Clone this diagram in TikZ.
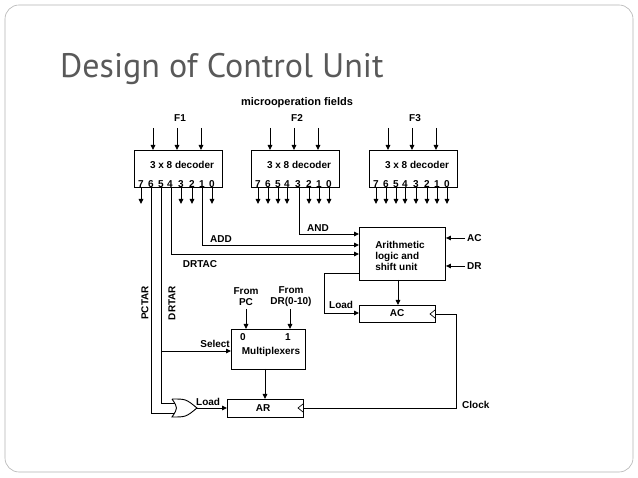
\documentclass[tikz,border=0pt]{standalone}
\usepackage{fontspec}
\setmainfont{Liberation Sans}
\newfontfamily\titlefont{PT Sans}
\usetikzlibrary{arrows.meta}
\begin{document}
\begin{tikzpicture}[x=1pt,y=-1pt,
  lbl/.style={font=\bfseries\fontsize{10}{11}\selectfont,inner sep=0pt,align=center},
  box/.style={draw,line width=0.9pt,minimum width=#1,inner sep=0pt},
  w/.style={line width=0.9pt},
  arr/.style={w,-{Triangle[length=5pt,width=4.5pt]}},
  clk/.style={line width=0.7pt}]
\useasboundingbox (0,0) rectangle (638,478);
\draw[gray!60,line width=0.6pt,rounded corners=14pt] (5,5) rectangle (633,472);
\node[anchor=base west,inner sep=0pt,text=black!65,font=\titlefont\fontsize{34}{36}\selectfont] (title) at (60,78) {Design of Control Unit};
\node[lbl,font=\bfseries\fontsize{11}{12}\selectfont] (mf) at (297,103) {microoperation fields};
% decoders
\foreach \i/\x/\f in {1/134/F1,2/251/F2,3/369/F3}{
  \node[box=88pt,minimum height=37pt,anchor=north west] (d\i) at (\x,150) {};
  \node[lbl] (f\i) at (\x+46,118) {\f};
  \node[lbl] (t\i) at (\x+48,165) {3 x 8 decoder};
  \foreach \dd/\o in {7/7,6/17,5/27,4/36,3/47,2/58,1/68,0/78}{
    \node[lbl] (n\i\dd) at (\x+\o,184) {\dd};}
  \foreach \k in {19,43,67}{ \coordinate (in\i\k) at (\x+\k,128); \draw[arr] (in\i\k) -- (in\i\k |- d\i.north); }
}
% decoder outputs
\foreach \xx in {141,181,192,212,258,268,278,287,309,319,329,376,386,396,405,416,427,437,447}{
  \coordinate (o\xx) at (\xx,204); \draw[arr] (o\xx |- d1.south) -- (o\xx);}
% ALU
\node[box=86pt,minimum height=53pt,anchor=north west] (alu) at (359,227) {};
\node[lbl,align=left] (alut) at (400,256) {Arithmetic\\logic and\\shift unit};
\node[box=76pt,minimum height=17pt,anchor=north west] (ac) at (359,305) {};
\node[lbl] (act) at (397,313.5) {AC};
\node[box=74pt,minimum height=40pt,anchor=north west] (mux) at (231,329) {};
\node[lbl] (m0) at (243,337) {0};
\node[lbl] (m1) at (288,337) {1};
\node[lbl] (mt) at (271,352) {Multiplexers};
\node[box=76pt,minimum height=18pt,anchor=north west] (ar) at (227,399) {};
\node[lbl] (art) at (263,408) {AR};
% signal lines
\draw[arr] (202,187) -- (202,245) -- (alu.west |- 0,245);
\draw[arr] (299,187) -- (299,234) -- (alu.west |- 0,234);
\draw[arr] (171,187) -- (171,254) -- (alu.west |- 0,254);
\node[lbl] (add) at (221,239) {ADD};
\node[lbl] (and) at (318,228) {AND};
\node[lbl] (drtac) at (200,264) {DRTAC};
\coordinate (acin) at (465,238); \coordinate (drin) at (465,266);
\draw[arr] (acin) -- (alu.east |- acin);
\draw[arr] (drin) -- (alu.east |- drin);
\node[lbl,anchor=west] (acl) at (467,238) {AC};
\node[lbl,anchor=west] (drl) at (467,266) {DR};
\draw[arr] (398,280) -- (ac.north -| 398,0);
\draw[arr] (alu.west |- 0,273) -- (324,273) -- (324,313) -- (ac.west |- 0,313);
\node[lbl,anchor=south west] (ldac) at (329,309) {Load};
% mux inputs
\node[lbl] (fpc) at (246,297) {From\\PC};
\node[lbl] (fdr) at (291,297) {From\\DR(0-10)};
\draw[arr] (246,309) -- (246,329);
\draw[arr] (290,309) -- (290,329);
\draw[arr] (265,369) -- (265,399);
% PCTAR / DRTAR
\node[lbl,rotate=90] (pctar) at (145,303) {PCTAR};
\node[lbl,rotate=90] (drtar) at (172,303) {DRTAR};
\draw[w] (151,187) -- (151,413) -- (176,413);
\draw[w] (161,187) -- (161,403) -- (176,403);
\draw[arr] (161,351) -- (mux.west |- 0,351);
\node[lbl,anchor=south east] (sel) at (230,348) {Select};
% OR gate
\coordinate (org) at (197,408);
\draw[w,fill=white] (172,399) .. controls (178,408) .. (172,417) .. controls (186,417) .. (org) .. controls (186,399) .. (172,399);
\draw[arr] (org) -- (ar.west |- org);
\node[lbl,anchor=south west] (ldar) at (196,406) {Load};
% clock
\draw[w] (ar.east |- 0,408) -- (456,408) -- (456,314) -- (ac.east |- 0,314);
\node[lbl,anchor=south west] (clkl) at (462,409) {Clock};
\draw[clk] (303,404) -- (298,408) -- (303,412);
\draw[clk] (435,310) -- (430,314) -- (435,318);
\end{tikzpicture}
\end{document}
